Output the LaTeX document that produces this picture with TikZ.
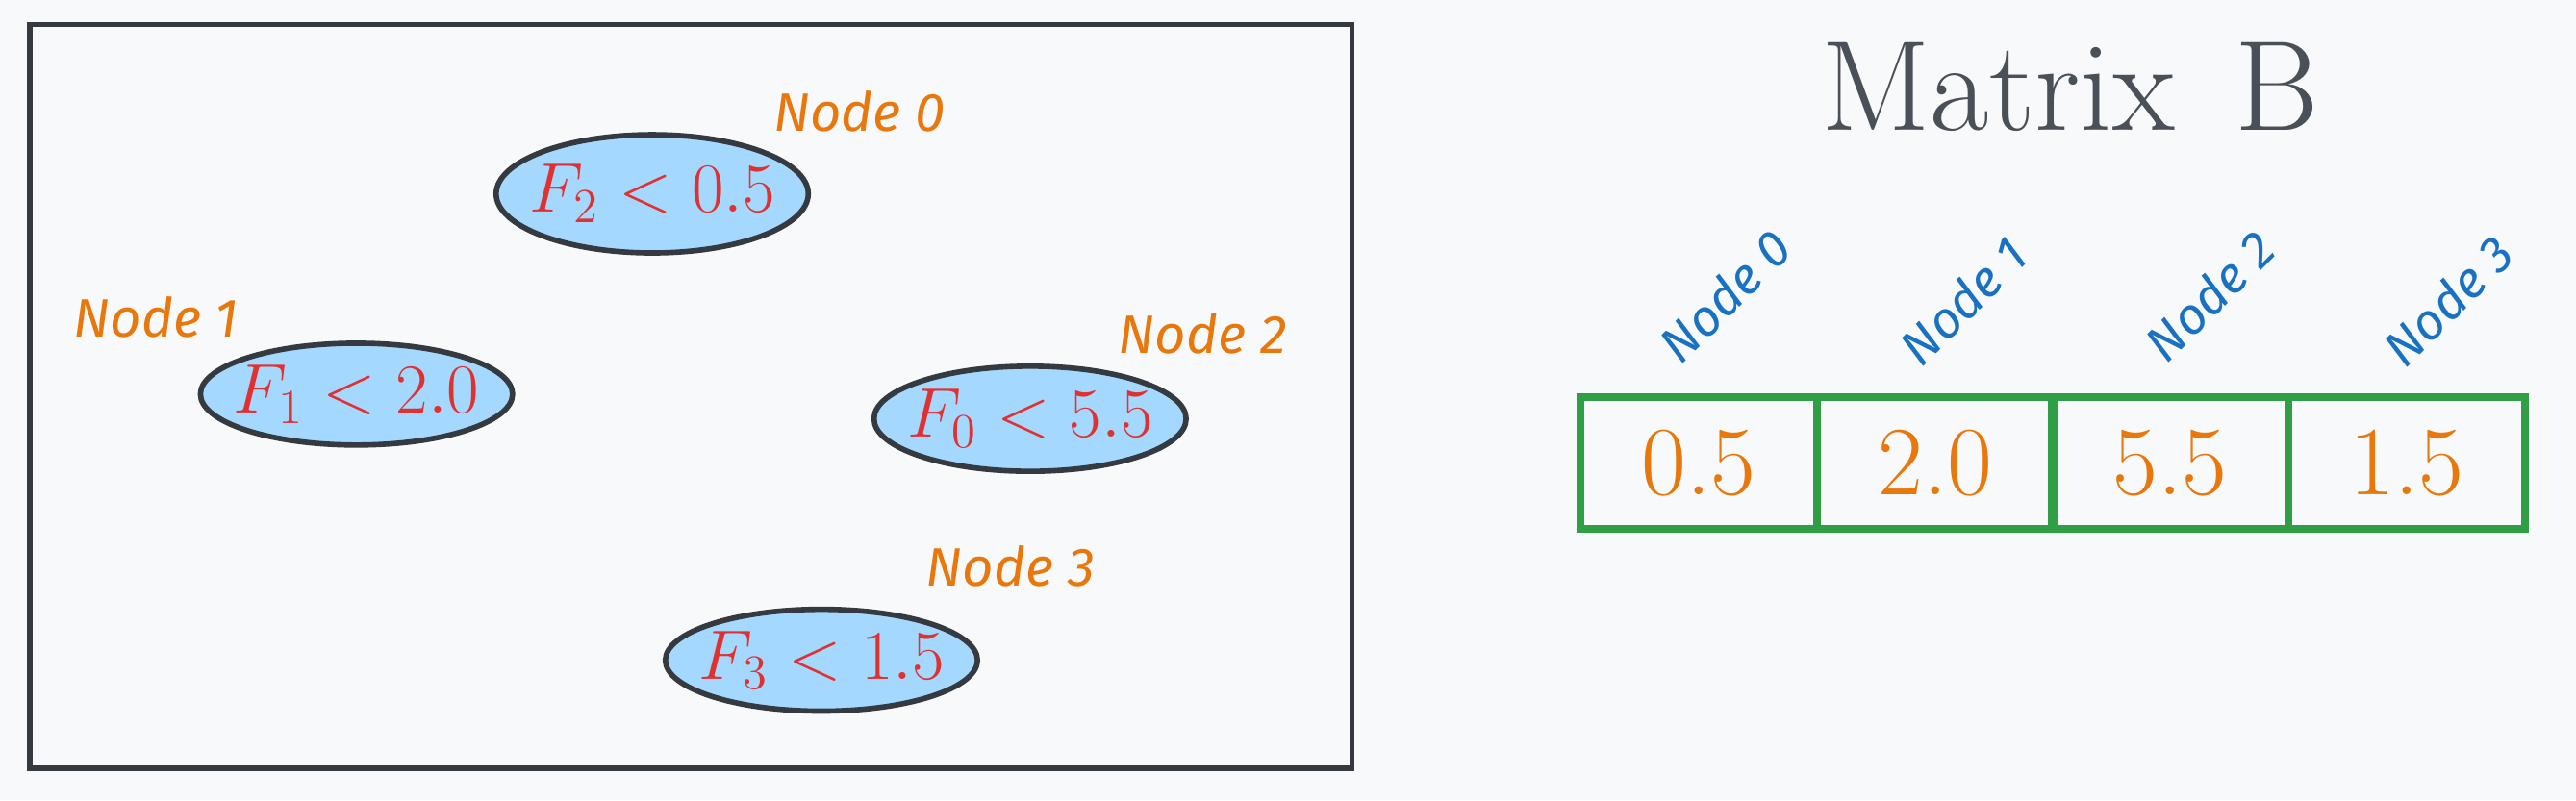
\documentclass[tikz,border=0pt]{standalone}
\usepackage{fontspec}
\newfontfamily\hand{Fira Sans}
\begin{document}
\definecolor{bg}{HTML}{F8F9FA}
\definecolor{ink}{HTML}{343A40}
\definecolor{title}{HTML}{495057}
\definecolor{fillb}{HTML}{A5D8FF}
\definecolor{redt}{HTML}{E03131}
\definecolor{orng}{HTML}{E8770C}
\definecolor{grn}{HTML}{2F9E44}
\definecolor{blu}{HTML}{1971C2}
\begin{tikzpicture}[x=0.01708cm,y=-0.01708cm,
  lab/.style={text=orng,font=\hand\itshape\fontsize{16}{20}\selectfont},
  val/.style={text=redt,font=\fontsize{22}{26}\selectfont},
  cell/.style={draw=grn,line width=2.2pt,minimum width=144*0.01708cm,minimum height=80*0.01708cm,inner sep=0pt,text=orng,font=\fontsize{29}{32}\selectfont},
  clab/.style={text=blu,rotate=45,inner sep=0pt,font=\hand\itshape\fontsize{15}{18}\selectfont}]
\useasboundingbox[fill=bg] (0,0) rectangle (1568,487.2);
\draw[ink,line width=1.6pt] (18,15) rectangle (823,468);
\foreach \n/\x/\y/\w/\h/\t in {e0/397/118/190/72/{$F_2<0.5$},e1/217/240/190/62/{$F_1<2.0$},e2/627/255/190/64/{$F_0<5.5$},e3/500/402/190/62/{$F_3<1.5$}}{
  \draw[ink,line width=1.6pt,fill=fillb] (\x,\y) ellipse [x radius=\w/2*0.01708cm, y radius=\h/2*0.01708cm];
  \node[val] (\n) at (\x,\y) {\t};
}
\node[lab] (l0) at (523,68) {Node 0};
\node[lab] (l1) at (95,193) {Node 1};
\node[lab] (l2) at (732,203) {Node 2};
\node[lab] (l3) at (615,345) {Node 3};
\node[text=title,font=\fontsize{38}{42}\selectfont] (mt) at (1260,53) {Matrix\, B};
\node[cell] (c0) at (1034,282) {0.5};
\node[cell] (c1) at (1178,282) {2.0};
\node[cell] (c2) at (1321,282) {5.5};
\node[cell] (c3) at (1465,282) {1.5};
\node[clab] (k0) at (1050,180) {Node 0};
\node[clab] (k1) at (1195,183) {Node 1};
\node[clab] (k2) at (1345,180) {Node 2};
\node[clab] (k3) at (1490,183) {Node 3};
\end{tikzpicture}
\end{document}
